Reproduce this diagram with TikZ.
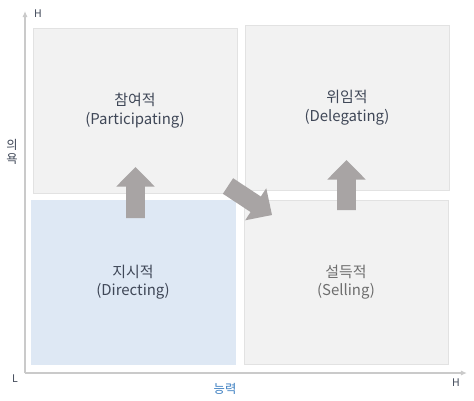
\documentclass[tikz,border=0pt]{standalone}
\usepackage{fontspec}
\setmainfont{Noto Sans CJK KR}
\usetikzlibrary{arrows.meta}

\definecolor{qdGray}{HTML}{F2F2F2}
\definecolor{qdLine}{HTML}{E2E2E2}
\definecolor{qdBlue}{HTML}{DEE8F4}
\definecolor{arGray}{HTML}{A8A4A4}
\definecolor{axGray}{HTML}{CACACA}
\definecolor{txDark}{HTML}{3F4757}
\definecolor{txLight}{HTML}{6E6E6E}
\definecolor{axBlue}{HTML}{3A7DC0}

\newcommand{\blockarr}[4]{
	\pgfmathsetmacro{\BAlen}{#3}
	\pgfmathsetmacro{\BAneck}{#3-19.5}
	\begin{scope}[shift={(#1,#2)},rotate=#4]
	\fill[arGray] (0,-9.3) -- (\BAneck,-9.3) -- (\BAneck,-19.2) -- (\BAlen,0)
		-- (\BAneck,19.2) -- (\BAneck,9.3) -- (0,9.3) -- cycle;
	\end{scope}
}

\tikzset{
	quad/.style={draw=qdLine, line width=0.5pt, minimum width=4.08cm, align=center,
		text=txDark, font=\fontsize{8.5}{10.6}\selectfont},
	axis/.style={draw=axGray, line width=0.85pt, -{Latex[length=3.5pt,width=3pt]}},
	axlabel/.style={text=txDark, font=\fontsize{6}{7}\selectfont, inner sep=0pt}
}

\begin{document}
\begin{tikzpicture}[x=0.02cm, y=-0.02cm]
\useasboundingbox (0,0) rectangle (474,400);

\coordinate (org) at (25,373);
\coordinate (yTop) at (25,11);
\coordinate (xEnd) at (467,373);
\draw[axis] (org) -- (yTop);
\draw[axis] (org) -- (xEnd);

\node[axlabel] (hiY) at (38,14) {H};
\node[axlabel] (loXY) at (15,379) {L};
\node[axlabel] (hiX) at (456,383) {H};
\node[axlabel, font=\fontsize{7}{7.6}\selectfont, align=center] (will) at (12,152) {의\\욕};
\node[axlabel, text=axBlue, font=\fontsize{7}{8}\selectfont] (skill) at (225,389) {능력};

\node[quad, fill=qdGray, minimum height=3.30cm] (part) at (135,110.5) {참여적\\(Participating)};
\node[quad, fill=qdGray, minimum height=3.30cm] (dele) at (347,107.5) {위임적\\(Delegating)};
\node[quad, fill=qdBlue, draw=qdBlue, minimum height=3.28cm] (dirc) at (133,282) {지시적\\(Directing)};
\node[quad, fill=qdGray, text=txLight, minimum height=3.28cm] (sell) at (346,282) {설득적\\(Selling)};

\blockarr{135.5}{218}{51}{90}
\blockarr{346.5}{210}{50}{90}
\blockarr{228}{186}{52.7}{-33.4}
\end{tikzpicture}
\end{document}
